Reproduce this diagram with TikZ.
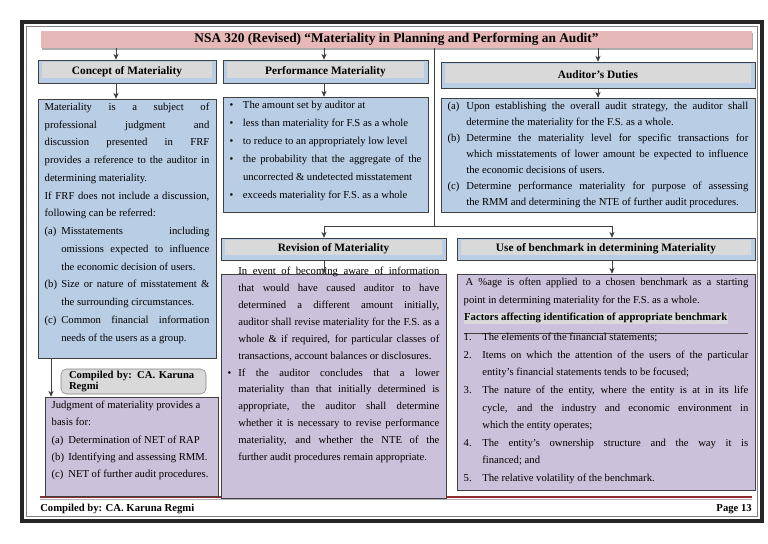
\documentclass[tikz,border=0pt]{standalone}
\usepackage{fontspec}
\setmainfont{Liberation Serif}
\usepackage{xcolor}
\usepackage{tikz}
\usetikzlibrary{shapes}
\usetikzlibrary{arrows.meta}
\usetikzlibrary{shadows}

\definecolor{rose}{HTML}{E6B9B8}
\definecolor{bleu}{HTML}{B9CDE5}
\definecolor{gris}{HTML}{D9D9D9}
\definecolor{mauve}{HTML}{CCC1DA}
\definecolor{bordeaux}{HTML}{8C2F2C}
\definecolor{trait}{HTML}{404040}

\hbadness=10000
\hfuzz=3pt
\newcommand{\boite}[3]{\parbox[c][#2][t]{#1}{#3}}
\newcommand{\elem}[2]{\par\hangindent=#1\hangafter=1\noindent\makebox[#1][l]{#2}}
\newcommand{\corpstexte}[1]{\fontsize{8}{#1}\selectfont}

\tikzstyle{titre}=[rectangle, fill=rose,
        drop shadow={shadow xshift=0.8pt, shadow yshift=-1.2pt, fill=gray!80, opacity=0.8},
        minimum width=533pt, minimum height=12.75pt, inner sep=0pt,
        font=\bfseries\fontsize{10}{12}\selectfont]
\tikzstyle{entete}=[rectangle, draw=trait, fill=bleu, inner sep=0pt,
        font=\bfseries\fontsize{8.5}{10}\selectfont,
        path picture={\fill[gris] ([xshift=3pt,yshift=-1.5pt]path picture bounding box.north west)
                rectangle ([xshift=-3pt,yshift=4pt]path picture bounding box.south east);}]
\tikzstyle{corps}=[rectangle, draw=trait, fill=bleu, inner xsep=5pt, inner ysep=3pt]
\tikzstyle{corpsmauve}=[corps, fill=mauve]
\tikzstyle{note}=[rectangle, rounded corners=4pt, draw=gray, fill=gris, inner xsep=6pt, inner ysep=1pt,
        text width=96.75pt, minimum height=18.75pt, align=left,
        font=\bfseries\fontsize{8}{8.3}\selectfont]
\tikzstyle{pied}=[inner sep=0pt, font=\bfseries\fontsize{8}{9}\selectfont]
\tikzstyle{suite}=[-{Stealth[length=4.5pt,width=4pt]},trait,line width=0.6pt]
\tikzstyle{ligne}=[trait,line width=0.6pt]

\begin{document}
\begin{tikzpicture}[x=0.75pt,y=-0.75pt]
\useasboundingbox (0,0) rectangle (768,543);
% cadre de la page
\draw[line width=2.4pt, black!85] (22,22) rectangle (762,521);
\draw[line width=0.8pt, black!50] (26.5,26.5) rectangle (757.5,516.5);
\draw[line width=1pt, gray!60] (40,499.5) -- (752,499.5);
\draw[line width=1.4pt, bordeaux] (40,497) -- (752,497);

\node[titre] (titre) at (396.5,39.5) {NSA 320 (Revised) “Materiality in Planning and Performing an Audit”};

\node[entete, minimum width=133.5pt, minimum height=17.25pt] (concept) at (127,71.5) {Concept of Materiality};
\node[entete, minimum width=153.75pt, minimum height=17.25pt] (perf) at (325.5,71.5) {Performance Materiality};
\node[entete, minimum width=235.5pt, minimum height=19.5pt] (devoirs) at (598,75) {Auditor’s Duties};

\node[corps] (conceptcorps) at (127,228.5) {\boite{123.5pt}{188.25pt}{\corpstexte{13.3pt}%
Materiality is a subject of\linebreak professional judgment and\linebreak discussion presented in FRF\linebreak
provides a reference to the auditor in\linebreak determining materiality.\par
If FRF does not include a discussion,\linebreak following can be referred:
\elem{12.5pt}{(a)}Misstatements including\linebreak omissions expected to influence\linebreak the economic decision of users.
\elem{12.5pt}{(b)}Size or nature of misstatement \&\linebreak the surrounding circumstances.
\elem{12.5pt}{(c)}Common financial information\linebreak needs of the users as a group.\par}};

\node[corps] (perfcorps) at (325.5,154.5) {\boite{143.75pt}{80.25pt}{\corpstexte{13.5pt}%
\elem{10pt}{\textbullet}The amount set by auditor at
\elem{10pt}{\textbullet}less than materiality for F.S as a whole
\elem{10pt}{\textbullet}to reduce to an appropriately low level
\elem{10pt}{\textbullet}the probability that the aggregate of the\linebreak uncorrected \& undetected misstatement
\elem{10pt}{\textbullet}exceeds materiality for F.S. as a whole\par}};

\node[corps] (devoirscorps) at (598,155) {\boite{225.5pt}{79.5pt}{\corpstexte{12pt}%
\elem{14pt}{(a)}Upon establishing the overall audit strategy, the auditor shall\linebreak determine the materiality for the F.S. as a whole.
\elem{14pt}{(b)}Determine the materiality level for specific transactions for\linebreak which misstatements of lower amount be expected to influence\linebreak the economic decisions of users.
\elem{14pt}{(c)}Determine performance materiality for purpose of assessing\linebreak the RMM and determining the NTE of further audit procedures.\par}};

\node[entete, minimum width=168.75pt, minimum height=16.5pt] (revision) at (333.5,249) {Revision of Materiality};
\node[entete, minimum width=223.5pt, minimum height=16.5pt] (usage) at (606,249) {Use of benchmark in determining Materiality};

\node[corpsmauve] (revisioncorps) at (333.5,386) {\boite{158.75pt}{162pt}{\corpstexte{12.65pt}\vspace*{-8pt}%
\elem{8pt}{}In event of becoming aware of information\linebreak that would have caused auditor to have\linebreak
determined a different amount initially,\linebreak auditor shall revise materiality for the F.S. as a\linebreak
whole \& if required, for particular classes of\linebreak transactions, account balances or disclosures.
\elem{8pt}{\textbullet}If the auditor concludes that a lower\linebreak materiality than that initially determined is\linebreak
appropriate, the auditor shall determine\linebreak whether it is necessary to revise performance\linebreak
materiality, and whether the NTE of the\linebreak further audit procedures remain appropriate.\par}};

\node[corpsmauve] (usagecorps) at (606,382) {\boite{213.5pt}{156pt}{\corpstexte{13.2pt}%
\hspace*{1.5pt}A \%age is often applied to a chosen benchmark as a starting\linebreak
point in determining materiality for the F.S. as a whole.\par
{\fboxsep=0.4pt\colorbox{gris}{\textbf{Factors affecting identification of appropriate benchmark}}}\par
\vspace{1.8pt}
\elem{14pt}{\rlap{\color{trait}\rule[5.2pt]{213.5pt}{0.5pt}}1.}The elements of the financial statements;
\elem{14pt}{2.}Items on which the attention of the users of the particular\linebreak entity’s financial statements tends to be focused;
\elem{14pt}{3.}The nature of the entity, where the entity is at in its life\linebreak cycle, and the industry and economic environment in\linebreak which the entity operates;
\elem{14pt}{4.}The entity’s ownership structure and the way it is\linebreak financed; and
\elem{14pt}{5.}The relative volatility of the benchmark.\par}};

\node[note] (compilateur) at (133.5,381.5) {Compiled by: CA. Karuna\\Regmi};

\node[corpsmauve] (jugement) at (131.5,446.5) {\boite{119.75pt}{68.25pt}{\corpstexte{13pt}%
Judgment of materiality provides a\\ basis for:
\elem{12.5pt}{(a)}Determination of NET of RAP
\elem{12.5pt}{(b)}Identifying and assessing RMM.
\elem{12.5pt}{(c)}NET of further audit procedures.\par}};

\node[pied, anchor=west] (auteur) at (40,509) {Compiled by: CA. Karuna Regmi};
\node[pied, anchor=east] (page) at (752,509) {Page 13};

%Les flèches
\coordinate (colC) at (116,0);
\coordinate (colP) at (324,0);
\coordinate (colU) at (612,0);
\coordinate (colJ) at (51,0);
\coordinate (jonction) at (434,226);
\draw[suite] (titre.south -| colC) -- (concept.north -| colC);
\draw[suite] (concept.south -| colC) -- (conceptcorps.north -| colC);
\draw[suite] (titre.south -| colP) -- (perf.north -| colP);
\draw[suite] (perf.south -| colP) -- (perfcorps.north -| colP);
\draw[suite] (titre.south -| devoirs) -- (devoirs.north);
\draw[suite] (devoirs.south) -- (devoirscorps.north);
\draw[ligne] (titre.south -| jonction) -- (jonction);
\draw[suite] (jonction) -| (revision.north -| colP);
\draw[suite] (jonction) -| (usage.north -| colU);
\draw[suite] (revision.south -| colP) -- (revisioncorps.north -| colP);
\draw[suite] (usage.south -| colU) -- (usagecorps.north -| colU);
\draw[suite] (conceptcorps.south -| colJ) -- (jugement.north -| colJ);
\end{tikzpicture}
\end{document}
